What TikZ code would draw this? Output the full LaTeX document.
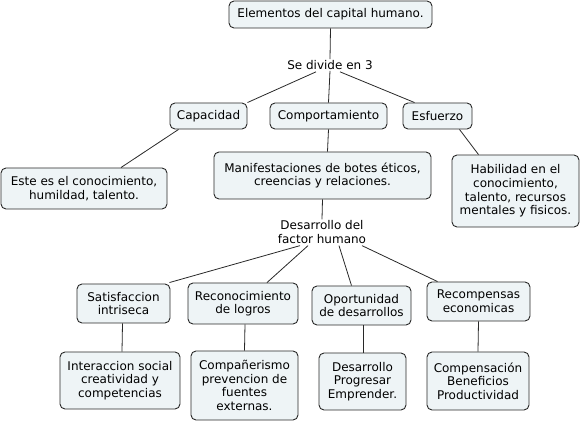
\documentclass[tikz,border=0pt]{standalone}
\usepackage{fontspec}
\setmainfont{DejaVu Sans}
\definecolor{boxfill}{RGB}{238,244,246}
\definecolor{boxline}{RGB}{40,40,40}
\begin{document}
\begin{tikzpicture}[x=1pt,y=-1pt,
  cbox/.style={draw=boxline,fill=boxfill,rounded corners=5pt,line width=0.9pt,align=center,inner sep=0pt,
    font=\fontsize{12}{13.6}\selectfont},
  lbl/.style={align=center,inner sep=1pt,font=\fontsize{12}{13.6}\selectfont},
  conn/.style={draw=boxline,line width=0.8pt}]
\useasboundingbox (0,0) rectangle (582,422);
% top
\node[cbox,minimum width=203pt,minimum height=27pt] (top) at (330.5,14.5) {Elementos del capital humano.};
\node[lbl] (div) at (330,65) {Se divide en 3};
\node[cbox,minimum width=77pt,minimum height=26pt] (cap) at (208.5,116) {Capacidad};
\node[cbox,minimum width=117pt,minimum height=26pt] (com) at (328.5,116) {Comportamiento};
\node[cbox,minimum width=69pt,minimum height=26pt] (esf) at (437.5,116) {Esfuerzo};
\node[cbox,minimum width=166pt,minimum height=41pt] (este) at (84,188.5) {Este es el conocimiento,\\humildad, talento.};
\node[cbox,minimum width=217pt,minimum height=47pt] (man) at (322.5,175.5) {Manifestaciones de botes éticos,\\creencias y relaciones.};
\node[cbox,minimum width=127pt,minimum height=72pt] (hab) at (515.5,191) {Habilidad en el\\conocimiento,\\talento, recursos\\mentales y fisicos.};
\node[lbl] (des) at (322,232) {Desarrollo del\\factor humano};
% level 3
\node[cbox,minimum width=93pt,minimum height=39pt] (sat) at (123.5,303.5) {Satisfaccion\\intriseca};
\node[cbox,minimum width=110pt,minimum height=41pt] (rec) at (243,303.5) {Reconocimiento\\de logros};
\node[cbox,minimum width=99pt,minimum height=39pt] (opo) at (361.5,305.5) {Oportunidad\\de desarrollos};
\node[cbox,minimum width=103pt,minimum height=39pt] (rcp) at (478.5,301.5) {Recompensas\\economicas};
% level 4
\node[cbox,minimum width=120pt,minimum height=57pt] (int) at (120,380.5) {Interaccion social\\creatividad y\\competencias};
\node[cbox,minimum width=107pt,minimum height=69pt] (cmp) at (244.5,385.5) {Compañerismo\\prevencion de\\fuentes\\externas.};
\node[cbox,minimum width=87pt,minimum height=57pt] (dpe) at (362.5,381.5) {Desarrollo\\Progresar\\Emprender.};
\node[cbox,minimum width=102pt,minimum height=58pt] (cbp) at (478,381) {Compensación\\Beneficios\\Productividad};
% connectors
\draw[conn] (top.south) -- (div.north);
\draw[conn] ([xshift=-14pt,yshift=-1pt]div.south) -- (cap.north east);
\draw[conn] (div.south) -- (com.north);
\draw[conn] ([xshift=10pt,yshift=-1pt]div.south) -- ([xshift=12pt]esf.north west);
\draw[conn] ([xshift=-30pt]cap.south) -- ([xshift=37pt]este.north);
\draw[conn] (com.south) -- ([xshift=5pt]man.north);
\draw[conn] ([xshift=22pt]esf.south) -- ([xshift=-37pt]hab.north);
\draw[conn] (man.south) -- (des.north);
\draw[conn] ([xshift=-22pt,yshift=-1pt]des.south) -- ([xshift=-1pt,yshift=1pt]sat.north east);
\draw[conn] ([xshift=-14pt,yshift=-1pt]des.south) -- ([xshift=24pt]rec.north);
\draw[conn] ([xshift=17pt,yshift=-1pt]des.south) -- ([xshift=-10pt]opo.north);
\draw[conn] ([xshift=40pt,yshift=-1pt]des.south) -- ([xshift=-41pt]rcp.north);
\draw[conn] ([xshift=-1pt]sat.south) -- ([xshift=2pt]int.north);
\draw[conn] ([xshift=2pt]rec.south) -- ([xshift=0pt]cmp.north);
\draw[conn] ([xshift=2pt]opo.south) -- ([xshift=1pt]dpe.north);
\draw[conn] (rcp.south) -- (cbp.north);
\end{tikzpicture}
\end{document}
